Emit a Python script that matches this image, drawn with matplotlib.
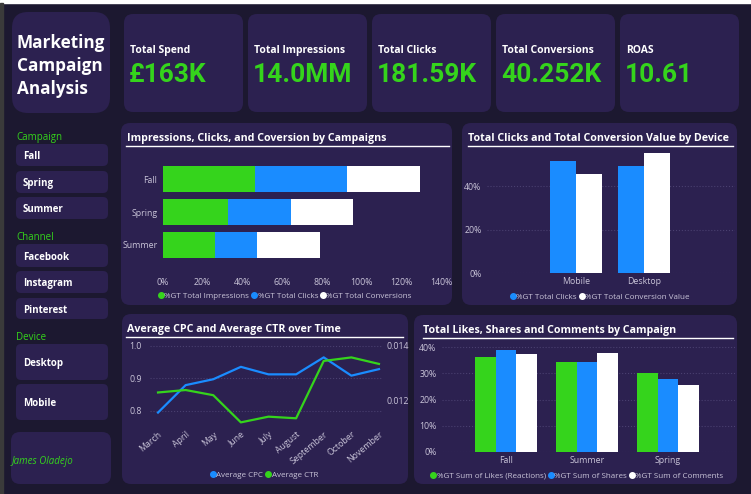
import matplotlib.pyplot as plt
from matplotlib.patches import FancyBboxPatch, Rectangle
from matplotlib.lines import Line2D

plt.rcParams['font.family'] = ['Open Sans', 'DejaVu Sans']

# ---- data ----
kpi_labels = ['Total Spend', 'Total Impressions', 'Total Clicks', 'Total Conversions', 'ROAS']
kpi_values = ['£163K', '14.0MM', '181.59K', '40.252K', '10.61']

campaigns = ['Fall', 'Spring', 'Summer']
imp_pct = [46.3, 32.6, 26.2]
clicks_pct = [46.2, 31.8, 21.0]
conv_pct = [36.9, 31.1, 31.8]
bar_xticks = [0, 20, 40, 60, 80, 100, 120, 140]

devices = ['Mobile', 'Desktop']
dev_clicks = [51.5, 49.1]
dev_conv_value = [45.4, 55.0]
dev_yticks = [0, 20, 40]

months = ['March', 'April', 'May', 'June', 'July', 'August', 'September', 'October', 'November']
avg_cpc = [0.795, 0.879, 0.897, 0.935, 0.912, 0.912, 0.964, 0.908, 0.928]
avg_ctr = [0.01228, 0.01237, 0.01218, 0.01118, 0.01139, 0.01133, 0.01344, 0.01357, 0.01333]
cpc_ticks = [0.8, 0.9, 1.0]
ctr_ticks = [0.012, 0.014]

eng_campaigns = ['Fall', 'Summer', 'Spring']
likes_pct = [36.4, 34.5, 30.3]
shares_pct = [39.0, 34.2, 27.9]
comments_pct = [37.5, 37.9, 25.6]
eng_yticks = [0, 10, 20, 30, 40]

slicers = {'Campaign': ['Fall', 'Spring', 'Summer'],
           'Channel': ['Facebook', 'Instagram', 'Pinterest'],
           'Device': ['Desktop', 'Mobile']}

# ---- styling ----
W, H = 751, 494
BG = '#1c1830'
CARD = '#2c2150'
GREEN = '#35d41c'
BLUE = '#1a8cff'
WHITE = '#ffffff'
TXT = '#c9c4d8'
GRID = '#4a4070'
TICK = 6.3

fig = plt.figure(figsize=(W / 100, H / 100), dpi=100, facecolor=BG)


def card(x0, y0, x1, y1, r=8, color=CARD):
    p = FancyBboxPatch((x0 / 100, (H - y1) / 100), (x1 - x0) / 100, (y1 - y0) / 100,
                       boxstyle=f"round,pad=0,rounding_size={r / 100}",
                       transform=fig.dpi_scale_trans, facecolor=color, edgecolor='none', zorder=0)
    fig.add_artist(p)


def text(x, y, s, **kw):
    fig.text(x / W, 1 - y / H, s, **kw)


def axes_px(x0, y0, x1, y1):
    ax = fig.add_axes([x0 / W, 1 - y1 / H, (x1 - x0) / W, (y1 - y0) / H])
    ax.set_facecolor('none')
    for s in ax.spines.values():
        s.set_visible(False)
    ax.tick_params(length=0, colors=TXT, labelsize=TICK)
    return ax


def legend(ax, labels, colors, cx, cy):
    handles = [Line2D([], [], marker='o', ls='', color=c, markersize=4) for c in colors]
    ax.legend(handles, labels, loc='center', bbox_to_anchor=(cx / W, 1 - cy / H),
              bbox_transform=fig.transFigure, ncol=len(labels), frameon=False,
              fontsize=5.8, labelcolor=TXT, handletextpad=0.15, columnspacing=0.3,
              handlelength=0.6, borderaxespad=0)


def underline(x0, x1, y):
    fig.add_artist(Line2D([x0 / W, x1 / W], [1 - y / H, 1 - y / H], color=WHITE, lw=1,
                          transform=fig.transFigure))


# edges of the screenshot
fig.add_artist(Rectangle((0, 1 - 3 / H), 1, 3 / H, transform=fig.transFigure, color='white', zorder=0))
fig.add_artist(Rectangle((0, 0), 3 / W, 1 - 3 / H, transform=fig.transFigure, color='#3a3a3a', zorder=0))

# title card
card(12, 12, 110, 113, r=16)
for i, w in enumerate(['Marketing', 'Campaign', 'Analysis']):
    text(17, 40.5 + i * 23.5, w, color=WHITE, fontsize=12.3, fontweight='bold', va='center_baseline')

# KPI cards
kpi_x = [124, 248, 372, 496, 620]
for x, lab, val in zip(kpi_x, kpi_labels, kpi_values):
    card(x, 14, x + 119, 112, r=9)
    text(x + 6, 49, lab, color=WHITE, fontsize=7.5, fontweight='bold', va='center_baseline')
    text(x + 5, 72, val, color=GREEN, fontsize=19, fontweight='bold', va='center_baseline',
         family=['Roboto', 'DejaVu Sans'])

# slicers
heads_y = {'Campaign': 136, 'Channel': 236, 'Device': 336}
buttons = {'Campaign': [(144, 166), (171, 193), (197, 219)],
           'Channel': [(244, 267), (271, 293), (298, 319)],
           'Device': [(344, 380), (384, 420)]}
for head, items in slicers.items():
    text(16, heads_y[head], head, color=GREEN, fontsize=7, va='center_baseline')
    for item, (y0, y1) in zip(items, buttons[head]):
        card(16, y0, 108, y1, r=5)
        text(23, (y0 + y1) / 2, item, color=WHITE, fontsize=7, fontweight='bold',
             va='center_baseline')

card(11, 432, 111, 484, r=9)
text(12, 460, 'James Oladejo', color=GREEN, fontsize=7, style='italic', va='center_baseline')

# ---- panel 1: stacked horizontal bars ----
card(121, 123, 452, 305, r=9)
text(127, 137, 'Impressions, Clicks, and Coversion by Campaigns', color=WHITE, fontsize=7.7,
     fontweight='bold', va='center_baseline')
underline(126, 449, 146)
ax1 = axes_px(163, 160, 441, 264)
ypos = range(len(campaigns))
left2 = [a + b for a, b in zip(imp_pct, clicks_pct)]
ax1.barh(ypos, imp_pct, height=0.79, color=GREEN)
ax1.barh(ypos, clicks_pct, left=imp_pct, height=0.79, color=BLUE)
ax1.barh(ypos, conv_pct, left=left2, height=0.79, color=WHITE)
ax1.set_xlim(0, 140)
ax1.set_ylim(2.576, -0.576)
ax1.set_yticks(list(ypos), campaigns)
ax1.set_xticks(bar_xticks, [f'{v}%' for v in bar_xticks])
ax1.tick_params(axis='x', pad=10)
ax1.tick_params(axis='y', pad=4)
legend(ax1, ['%GT Total Impressions', '%GT Total Clicks', '%GT Total Conversions'],
       [GREEN, BLUE, WHITE], 285, 296)

# ---- panel 2: device bars ----
card(462, 123, 737, 305, r=9)
text(468, 137, 'Total Clicks and Total Conversion Value by Device', color=WHITE, fontsize=7.7,
     fontweight='bold', va='center_baseline')
underline(468, 733, 146)
ax2 = axes_px(487, 150, 735, 273.3)
xd = range(len(devices))
ax2.bar([x - 0.19 for x in xd], dev_clicks, width=0.38, color=BLUE)
ax2.bar([x + 0.19 for x in xd], dev_conv_value, width=0.38, color=WHITE)
ax2.set_xlim(-1.31, 2.34)
ax2.set_ylim(0, 56.5)
ax2.set_xticks(list(xd), devices)
ax2.set_yticks(dev_yticks, [f'{v}%' for v in dev_yticks])
ax2.grid(axis='y', color=GRID, ls=':', lw=0.8)
ax2.set_axisbelow(True)
ax2.tick_params(axis='y', pad=4)
ax2.tick_params(axis='x', pad=3)
legend(ax2, ['%GT Total Clicks', '%GT Total Conversion Value'], [BLUE, WHITE], 600, 297)

# ---- panel 3: CPC / CTR lines ----
card(122, 314, 408, 484, r=9)
text(127, 328, 'Average CPC and Average CTR over Time', color=WHITE, fontsize=7.7,
     fontweight='bold', va='center_baseline')
underline(126, 403, 337)
ax3 = axes_px(150, 343, 382, 424)
xm = range(len(months))
ax3.plot(xm, avg_cpc, color=BLUE, lw=1.6)
ax3.set_xlim(-0.29, 8.11)
ax3.set_ylim(0.760, 1.008)
ax3.set_yticks(cpc_ticks, [f'{v:.1f}' for v in cpc_ticks])
ax3.grid(axis='y', color=GRID, ls=':', lw=0.8)
ax3.set_xticks(list(xm), months, rotation=40, ha='right', rotation_mode='anchor')
ax3.tick_params(axis='x', pad=4)
ax3.tick_params(axis='y', pad=6)
ax3b = ax3.twinx()
ax3b.set_facecolor('none')
for s in ax3b.spines.values():
    s.set_visible(False)
ax3b.plot(xm, avg_ctr, color=GREEN, lw=1.6)
ax3b.set_ylim(0.01112, 0.0141)
ax3b.set_yticks(ctr_ticks, [f'{v:.3f}' for v in ctr_ticks])
ax3b.tick_params(length=0, colors=TXT, labelsize=TICK, pad=3)
legend(ax3, ['Average CPC', 'Average CTR'], [BLUE, GREEN], 264, 475)

# ---- panel 4: likes / shares / comments ----
card(414, 315, 737, 484, r=9)
text(423, 329, 'Total Likes, Shares and Comments by Campaign', color=WHITE, fontsize=7.7,
     fontweight='bold', va='center_baseline')
underline(423, 733, 338)
ax4 = axes_px(442, 345, 735, 451.7)
xe = range(len(eng_campaigns))
bw = 0.255
ax4.bar([x - bw for x in xe], likes_pct, width=bw, color=GREEN)
ax4.bar(list(xe), shares_pct, width=bw, color=BLUE)
ax4.bar([x + bw for x in xe], comments_pct, width=bw, color=WHITE)
ax4.set_xlim(-0.79, 2.83)
ax4.set_ylim(0, 40.9)
ax4.set_xticks(list(xe), eng_campaigns)
ax4.set_yticks(eng_yticks, [f'{v}%' for v in eng_yticks])
ax4.grid(axis='y', color=GRID, ls=':', lw=0.8)
ax4.set_axisbelow(True)
ax4.tick_params(axis='y', pad=4)
ax4.tick_params(axis='x', pad=3)
legend(ax4, ['%GT Sum of Likes (Reactions)', '%GT Sum of Shares', '%GT Sum of Comments'],
       [GREEN, BLUE, WHITE], 577, 476)

fig.savefig('out.png', dpi=100, facecolor=BG)
